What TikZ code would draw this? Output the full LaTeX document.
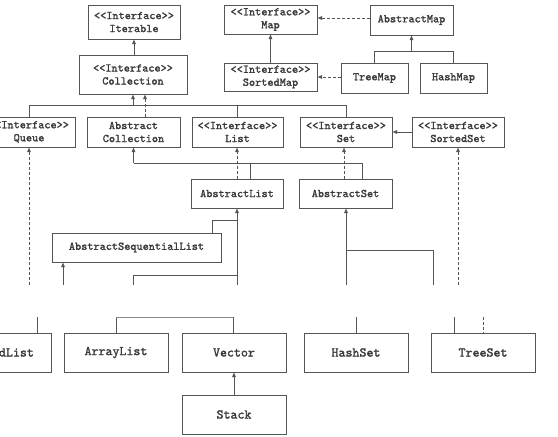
\documentclass[tikz,border=0pt]{standalone}
\usepackage{fontspec}
\newfontfamily\codefont{lmmono10-regular.otf}[FakeBold=1.6]
\usetikzlibrary{arrows.meta}
\definecolor{ln}{HTML}{555555}
\definecolor{tx}{HTML}{3A3A3A}
\begin{document}
\begin{tikzpicture}[x=1pt,y=-1pt,
  box/.style={draw=ln,line width=1pt,inner sep=0pt,align=center,text=tx,
    font=\codefont\fontsize{11.7}{13}\selectfont},
  bigbox/.style={box,font=\codefont\fontsize{13.3}{15}\selectfont},
  ln/.style={draw=ln,line width=1pt},
  arr/.style={ln,-{Triangle[length=4.5pt,width=3.5pt]}},
  dsh/.style={ln,dash pattern=on 3pt off 2pt},
  darr/.style={arr,dash pattern=on 3pt off 2pt}]
\useasboundingbox (0,0) rectangle (558,437);
\clip (0,0) rectangle (558,437);
\fill[white] (0,0) rectangle (558,437);
% top nodes
\node[box,minimum width=92,minimum height=34] (Iterable) at (134,22) {<<Interface>>\\Iterable};
\node[box,minimum width=108,minimum height=39] (Collection) at (133,74.5) {<<Interface>>\\Collection};
\node[box,minimum width=93,minimum height=29] (Map) at (270.5,19.5) {<<Interface>>\\Map};
\node[box,minimum width=83,minimum height=30] (AbstractMap) at (411.5,20) {AbstractMap};
\node[box,minimum width=93,minimum height=28] (SortedMap) at (270.5,77) {<<Interface>>\\SortedMap};
\node[box,minimum width=67,minimum height=30] (TreeMap) at (374.5,78) {TreeMap};
\node[box,minimum width=67,minimum height=30] (HashMap) at (453.5,78) {HashMap};
\node[box,minimum width=92,minimum height=30] (Queue) at (29,132) {<<Interface>>\\Queue};
\node[box,minimum width=93,minimum height=30] (AbsColl) at (133.5,132) {Abstract\\Collection};
\node[box,minimum width=91,minimum height=30] (List) at (237.5,132) {<<Interface>>\\List};
\node[box,minimum width=92,minimum height=30] (Set) at (346,132) {<<Interface>>\\Set};
\node[box,minimum width=92,minimum height=30] (SortedSet) at (458,132) {<<Interface>>\\SortedSet};
\node[box,minimum width=92,minimum height=29] (AbsList) at (237,193.5) {AbstractList};
\node[box,minimum width=93,minimum height=29] (AbsSet) at (345.5,193.5) {AbstractSet};
\node[box,minimum width=169,minimum height=29] (AbsSeq) at (136.5,247.5) {AbstractSequentialList};
% bottom nodes
\node[bigbox,minimum width=104,minimum height=39] (LinkedList) at (-1,352.5) {LinkedList};
\node[bigbox,minimum width=104,minimum height=39] (ArrayList) at (116,352.5) {ArrayList};
\node[bigbox,minimum width=104,minimum height=39] (Vector) at (234,352.5) {Vector};
\node[bigbox,minimum width=104,minimum height=39] (Stack) at (234,414.5) {Stack};
\node[bigbox,minimum width=104,minimum height=39] (HashSet) at (356,352.5) {HashSet};
\node[bigbox,minimum width=104,minimum height=39] (TreeSet) at (483,352.5) {TreeSet};
% coordinates
\coordinate (jq) at (29,105);
\coordinate (js) at (346,105);
\coordinate (ja) at (133,163);
\coordinate (jb) at (362,163);
\coordinate (jm1) at (374,51);
\coordinate (jm2) at (453,51);
\coordinate (cq) at (29,285);
\coordinate (cseq) at (63,285);
\coordinate (carr) at (133,285);
\coordinate (clist) at (237,285);
\coordinate (jl1) at (212,220);
\coordinate (jl2) at (237,220);
\coordinate (jl3) at (237,275);
\coordinate (chs) at (346,285);
\coordinate (cts) at (433,285);
\coordinate (jh) at (346,250);
\coordinate (css) at (458,285);
\coordinate (bll) at (37,317);
\coordinate (bal) at (116,317);
\coordinate (bv) at (233,317);
\coordinate (bhs) at (356,317);
\coordinate (bts1) at (454,317);
\coordinate (bts2) at (483,317);
% top connectors
\draw[arr] (Collection.north -| Iterable.south) -- (Iterable.south);
\draw[ln] (Queue.north) -- (jq) -- (js) -- (Set.north);
\draw[ln] (List.north) -- (List.north |- jq);
\draw[arr] (Collection.south |- jq) -- (Collection.south);
\draw[darr] ([xshift=11.5]AbsColl.north) -- ([xshift=12]Collection.south);
\draw[darr] (AbstractMap.west |- 0,18) -- (Map.east |- 0,18);
\draw[arr] (SortedMap.north) -- (Map.south);
\draw[darr] (TreeMap.west |- 0,77) -- (SortedMap.east |- 0,77);
\draw[ln] (TreeMap.north -| jm1) -- (jm1) -- (jm2) -- (HashMap.north -| jm2);
\draw[arr] (AbstractMap.south |- jm1) -- (AbstractMap.south);
\draw[arr] (SortedSet.west) -- (Set.east);
% middle connectors
\draw[darr] (cq) -- (Queue.south);
\draw[arr] (AbsColl.south |- ja) -- (AbsColl.south);
\draw[ln] (AbsColl.south |- ja) -- (jb) -- (AbsSet.north -| jb);
\draw[ln] (AbsList.north -| 250,0) -- (250,163);
\draw[darr] (AbsList.north) -- (List.south -| AbsList.north);
\draw[darr] (AbsSet.north -| 344,0) -- (Set.south -| 344,0);
\draw[arr] (clist) -- (AbsList.south);
\draw[ln] (jl2) -- (jl1) -- (AbsSeq.north -| jl1);
\draw[ln] (jl3) -- (carr |- jl3) -- (carr);
\draw[arr] (cseq) -- (AbsSeq.south -| cseq);
\draw[arr] (chs) -- (AbsSet.south -| chs);
\draw[ln] (jh) -- (cts |- jh) -- (cts);
\draw[darr] (css) -- (SortedSet.south);
% bottom connectors
\draw[ln] (bll) -- (LinkedList.north -| bll);
\draw[ln] (ArrayList.north) -- (bal);
\draw[ln,draw=ln!70,line width=0.7pt] (bal) -- (bv);
\draw[ln] (bv) -- (Vector.north -| bv);
\draw[arr] (Stack.north) -- (Vector.south);
\draw[ln] (bhs) -- (HashSet.north);
\draw[ln] (bts1) -- (TreeSet.north -| bts1);
\draw[dsh] (bts2) -- (TreeSet.north);
\end{tikzpicture}
\end{document}
